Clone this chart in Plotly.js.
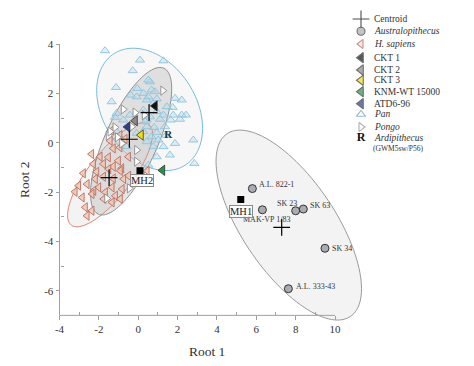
<!DOCTYPE html>
<html><head><meta charset="utf-8">
<script src="https://cdn.plot.ly/plotly-3.0.1.min.js"></script>
<style>html,body{margin:0;padding:0;background:#fff}#chart{width:474px;height:366px}</style>
</head><body><div id="chart"></div>
<script>
const FONT = 'Liberation Serif, Times New Roman, serif';

// ---------------- data ----------------
const panX = [-1.69,0.09,1.28,-0.28,-1.13,0.60,-1.35,-0.38,-0.08,0.43,0.94,1.87,1.75,0.26,0.94,1.28,1.11,-1.10,-0.42,0.43,2.21,2.43,2.12,1.65,0.43,0.81,1.36,0.68,1.02,1.28,1.87,2.80,1.61,2.85,-1.10,-0.93,0.77,0.43,1.42,0.26,0.94,-0.59,0.51,0.68,0.26,0.77,0.51,1.45,1.78,0.60,-0.08,-0.76,2.21,-0.05,0.85,0.35,0.51,0.94,-1.18];
const panY = [3.73,3.35,3.32,2.92,2.24,2.47,1.66,1.93,1.86,1.73,1.78,1.80,1.43,1.32,1.26,1.12,0.95,1.19,1.12,0.92,1.12,1.12,0.95,0.92,0.65,0.62,0.65,0.24,0.11,-0.16,-0.03,0.11,-0.50,-0.84,0.45,0.22,-0.16,0.04,0.30,0.45,0.41,-0.16,2.54,2.14,2.00,1.59,1.86,1.46,1.12,1.05,0.38,0.92,1.73,2.20,2.07,0.85,-0.91,-0.57,1.03];

const sapX = [-1.35,-0.93,-1.43,-0.67,-0.93,-1.27,-2.37,-1.94,-1.52,-1.01,-0.50,-2.28,-1.77,-1.27,-0.84,-1.50,-0.91,-0.49,0.45,-2.11,-2.79,-2.18,-0.74,-1.27,-1.77,-3.03,-2.60,-2.01,-1.33,-0.82,-2.26,-1.67,-2.35,-1.16,-2.85,-1.75,-0.91,-1.33,-2.69,-2.35,-2.60,-0.16,-3.21];
const sapY = [0.49,0.31,0.08,0.15,-0.19,-0.23,-0.46,-0.57,-0.59,-0.73,-0.57,-0.86,-0.86,-0.97,-1.04,-1.07,-1.14,-1.34,-1.14,-1.18,-1.24,-1.47,-1.47,-1.45,-1.38,-1.74,-1.68,-1.81,-1.81,-1.88,-1.95,-2.01,-2.08,-2.15,-2.22,-2.28,-2.28,-2.42,-2.62,-2.76,-2.96,-1.51,-1.99];

const pongoX = [1.25,-0.76,-0.16,-1.18,-1.52,-1.06,-1.43,-0.08,-0.08,-0.33,-0.45,-1.60,-0.84,0.31];
const pongoY = [2.11,1.35,1.22,0.62,0.28,0.22,0.45,-0.30,-0.77,0.65,-1.85,-2.26,-0.03,1.12];

const centroidGroups = ['Pan','Pongo','H. sapiens','Australopithecus'];
const centroidX = [0.55,-0.45,-1.48,7.29];
const centroidY = [1.22,0.14,-1.42,-3.43];

const specNames = ['CKT 1','CKT 2','CKT 3','KNM-WT 15000','ATD6-96'];
const specX = [0.85,-0.16,0.14,1.23,-0.54];
const specY = [1.49,0.89,0.31,-1.12,0.64];

const austNames = ['A.L. 822-1','MAK-VP 1/83','SK 23','SK 63','SK 34','A.L. 333-43'];
const austX = [5.80,6.31,8.00,8.39,9.49,7.63];
const austY = [-1.86,-2.72,-2.76,-2.69,-4.28,-5.92];

const mhNames = ['MH1','MH2'];
const mhX = [5.21,0.09];
const mhY = [-2.30,-1.14];

const ardiX = [1.53];
const ardiY = [0.31];

const xTicks = [-4,-2,0,2,4,6,8,10];
const xTickText = ['-4','-2','0','2','4','6','8','10'];
const xMinor = [-3,-1,1,3,5,7,9];
const yTicks = [-6,-4,-2,0,2,4];
const yTickText = ['-6','-4','-2','0','2','4'];
const yMinor = [-5,-3,-1,1,3];

const legendLabels = ['Centroid','<i>Australopithecus</i>','<i>H. sapiens</i>','CKT 1','CKT 2','CKT 3','KNM-WT 15000','ATD6-96','<i>Pan</i>','<i>Pongo</i>','<i>Ardipithecus</i>'];

// ---------------- styling ----------------
const specColors = ['#111111','#8a8a8a','#f2e200','#1e9a45','#2b3f8f'];
// ellipse geometry (centre, top-point x offset A, conjugate B, half-height H) in data units
const ellipses = [
  {cx:0.58, cy:1.35, A:-0.83, B:2.56, H:2.48, line:'#74bcdb', fill:'rgba(232,232,232,0.35)'},
  {cx:-1.43, cy:-1.30, A:1.685, B:1.35, H:2.11, line:'#e0806e', fill:'rgba(222,222,222,0.35)'},
  {cx:-0.36, cy:0.06, A:1.465, B:1.45, H:2.99, line:'#8f8f8f', fill:'rgba(170,170,170,0.30)'},
  {cx:7.65, cy:-3.34, A:-2.48, B:2.74, H:3.85, line:'#9a9a9a', fill:'rgba(242,242,242,0.9)'}
];
function ellipsePath(e){
  let d='';
  for(let i=0;i<=120;i++){
    const t=2*Math.PI*i/120;
    const x=e.cx+e.A*Math.cos(t)+e.B*Math.sin(t);
    const y=e.cy+e.H*Math.cos(t);
    d+=(i?'L':'M')+x.toFixed(4)+','+y.toFixed(4);
  }
  return d+'Z';
}

const shapes = ellipses.map(e=>({type:'path',xref:'x',yref:'y',path:ellipsePath(e),
  fillcolor:e.fill,line:{color:e.line,width:1},layer:'below'}));
shapes.push({type:'line',xref:'x',yref:'y',x0:-4,x1:10,y0:-7,y1:-7,line:{color:'#a0a0a0',width:1},layer:'below'});
shapes.push({type:'line',xref:'x',yref:'y',x0:-4,x1:-4,y0:-7,y1:4,line:{color:'#a0a0a0',width:1},layer:'below'});

const traces = [
  {x:panX,y:panY,type:'scatter',mode:'markers',name:'Pan',cliponaxis:false,
   marker:{symbol:'triangle-up',size:8,color:'rgba(180,220,238,0.45)',line:{color:'#8cc4de',width:0.9}}},
  {x:sapX,y:sapY,type:'scatter',mode:'markers',name:'H. sapiens',
   marker:{symbol:'triangle-left',size:8,color:'rgba(244,195,172,0.8)',line:{color:'#b56f62',width:0.9}}},
  {x:pongoX,y:pongoY,type:'scatter',mode:'markers',name:'Pongo',
   marker:{symbol:'triangle-right',size:8,color:'#ffffff',line:{color:'#8a8a8a',width:0.9}}},
  {x:specX,y:specY,type:'scatter',mode:'markers',name:'specimens',text:specNames,
   marker:{symbol:'triangle-left',size:9,color:specColors,line:{color:'#333',width:0.8}}},
  {x:austX,y:austY,type:'scatter',mode:'markers',name:'Australopithecus',
   marker:{symbol:'circle',size:8,color:'#a9acb0',line:{color:'#333',width:1}}},
  {x:mhX,y:mhY,type:'scatter',mode:'markers',name:'MH',
   marker:{symbol:'square',size:7,color:'#000',line:{width:0}}},
  {x:ardiX,y:ardiY,type:'scatter',mode:'text',name:'Ardipithecus',text:['R'],
   textfont:{family:FONT,size:11,color:'#163a3a',weight:'bold'}},
  {x:centroidX,y:centroidY,type:'scatter',mode:'markers',name:'Centroid',text:centroidGroups,
   marker:{symbol:'cross-thin-open',size:12,color:'#000',line:{color:'#000',width:1.2}}}
];

// ---------------- legend (pixel coordinates via x2/y2) ----------------
const legRowY = [19,31.3,44,57.7,70,80.3,91.7,103.7,114.3,127,138.3];
const legSymbols = ['cross-thin-open','circle','triangle-left','triangle-left','triangle-left','triangle-left','triangle-left','triangle-left','triangle-up','triangle-right'];
const legFill = ['#000','#a9acb0','rgba(244,200,180,0.6)','#111','#8a8a8a','#f2e200','#1e9a45','#2b3f8f','rgba(255,255,255,0)','#fff'];
const legLine = ['#000','#333','#b0665a','#333','#333','#333','#333','#333','#6a9fbd','#8a8a8a'];
const legSize = [12,8,8,9,9,9,9,9,8,8];
traces.push({x:legSymbols.map(()=>361),y:legRowY.slice(0,10),xaxis:'x2',yaxis:'y2',type:'scatter',mode:'markers',
  cliponaxis:false,hoverinfo:'skip',
  marker:{symbol:legSymbols,size:legSize,color:legFill,line:{color:legLine,width:1.1}}});
traces.push({x:[361],y:[legRowY[10]],xaxis:'x2',yaxis:'y2',type:'scatter',mode:'text',text:['R'],cliponaxis:false,
  textfont:{family:FONT,size:12,color:'#111',weight:'bold'},hoverinfo:'skip'});

const annotations = [];
legendLabels.forEach((t,i)=>{
  annotations.push({xref:'x2',yref:'y2',x:371.5,y:legRowY[i],text:t,showarrow:false,xanchor:'left',yanchor:'middle',
    font:{family:FONT,size:9.5,color:'#333'}});
});
annotations.push({xref:'x2',yref:'y2',x:371,y:148.3,text:'(GWM5sw/P56)',showarrow:false,xanchor:'left',yanchor:'middle',
  font:{family:FONT,size:7.5,color:'#333'}});

// specimen labels
const austLabelPos = [
  {xanchor:'left',xs:5,ys:4},{xanchor:'center',xs:4,ys:-10},{xanchor:'center',xs:-9,ys:7},
  {xanchor:'left',xs:5,ys:4},{xanchor:'left',xs:5,ys:0},{xanchor:'left',xs:6,ys:2}];
austNames.forEach((n,i)=>{
  const p=austLabelPos[i];
  annotations.push({x:austX[i],y:austY[i],xref:'x',yref:'y',text:n,showarrow:false,xanchor:p.xanchor,yanchor:'middle',
    xshift:p.xs,yshift:p.ys,font:{family:FONT,size:8,color:'#333'}});
});
const mhShift = [{xs:0,ys:-12},{xs:2,ys:-10}];
mhNames.forEach((n,i)=>{
  annotations.push({x:mhX[i],y:mhY[i],xref:'x',yref:'y',text:n,showarrow:false,xanchor:'center',yanchor:'middle',
    xshift:mhShift[i].xs,yshift:mhShift[i].ys,bordercolor:'#8a8a8a',borderwidth:1,borderpad:0,bgcolor:'rgba(255,255,255,0.8)',
    font:{family:FONT,size:10.5,color:'#222'}});
});

const axisCommon = {showline:false,showgrid:false,zeroline:false,ticks:'outside',ticklen:4,tickwidth:1,tickcolor:'#a0a0a0',
  tickfont:{family:FONT,size:11,color:'#333'}};
const layout = {
  width:474,height:366,margin:{l:0,r:0,t:0,b:0},paper_bgcolor:'#fff',plot_bgcolor:'rgba(0,0,0,0)',showlegend:false,
  xaxis:Object.assign({},axisCommon,{domain:[0.10477,0.76907],range:[-4.5,11.5],anchor:'free',position:0.13934,
    tickmode:'array',tickvals:xTicks,ticktext:xTickText,
    minor:{tickmode:'array',tickvals:xMinor,ticks:'inside',ticklen:3,tickcolor:'#a0a0a0',showgrid:false},
    title:{text:'Root 1',font:{family:FONT,size:13.5,color:'#333'},standoff:12}}),
  yaxis:Object.assign({},axisCommon,{domain:[0.10464,0.91342],range:[-7.5,4.5],anchor:'free',position:0.12553,
    tickmode:'array',tickvals:yTicks,ticktext:yTickText,
    minor:{tickmode:'array',tickvals:yMinor,ticks:'inside',ticklen:3,tickcolor:'#a0a0a0',showgrid:false},
    title:{text:'Root 2',font:{family:FONT,size:13.5,color:'#333'},standoff:10}}),
  xaxis2:{domain:[0,1],range:[0,474],anchor:'y2',visible:false,fixedrange:true},
  yaxis2:{domain:[0,1],range:[366,0],anchor:'x2',visible:false,fixedrange:true},
  shapes:shapes,annotations:annotations
};
Plotly.newPlot('chart',traces,layout,{staticPlot:true,displayModeBar:false});
</script></body></html>
